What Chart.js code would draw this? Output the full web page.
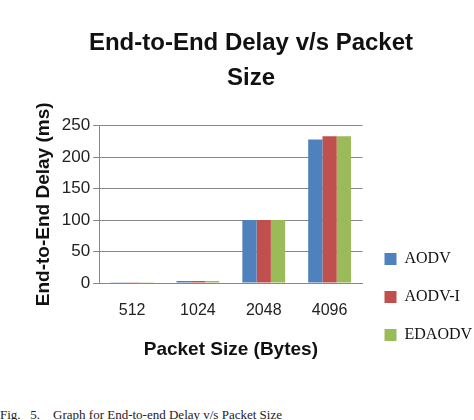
<!DOCTYPE html>
<html><head>
<script src="https://cdn.jsdelivr.net/npm/chart.js@4"></script>
<style>
body{margin:0;background:#fff;}
#wrap{position:relative;width:474px;height:420px;overflow:hidden;}
#caption{position:absolute;left:0;top:407px;font:13px "Liberation Serif",serif;color:#222;white-space:nowrap;}
</style>
</head><body>
<div id="wrap">
<canvas id="c" width="474" height="400"></canvas>
<div id="caption">Fig.&nbsp;&nbsp;&nbsp;5.&nbsp;&nbsp;&nbsp;&nbsp;Graph for End-to-end Delay v/s Packet Size</div>
</div>
<script>
const packetSizes = ['512', '1024', '2048', '4096'];
const aodv = [1, 3, 100, 228];
const aodvI = [1, 3, 100, 233];
const edaodv = [1, 3, 100, 233];
const yTicks = [0, 50, 100, 150, 200, 250];

const ctx = document.getElementById('c').getContext('2d');
new Chart(ctx, {
  type: 'bar',
  data: {
    labels: packetSizes,
    datasets: [
      { label: 'AODV', data: aodv, backgroundColor: '#4F81BD' },
      { label: 'AODV-I', data: aodvI, backgroundColor: '#C0504D' },
      { label: 'EDAODV', data: edaodv, backgroundColor: '#9BBB59' }
    ]
  },
  options: {
    responsive: false,
    animation: false,
    layout: { padding: { left: 28, right: 0, top: 14, bottom: 35 } },
    datasets: { bar: { categoryPercentage: 0.65, barPercentage: 1 } },
    scales: {
      x: {
        grid: { display: false },
        border: { color: '#888' },
        ticks: { color: '#222', padding: 10, font: { family: 'Liberation Sans', size: 16 } },
        title: { display: true, text: 'Packet Size (Bytes)', color: '#111', padding: { top: 8 },
          font: { family: 'Liberation Sans', size: 19, weight: 'bold' } }
      },
      y: {
        min: 0, max: 250,
        afterBuildTicks: ax => { ax.ticks = yTicks.map(v => ({ value: v })); },
        grid: { color: '#888', drawTicks: true, tickLength: 6 },
        border: { color: '#888' },
        ticks: { color: '#222', font: { family: 'Liberation Sans', size: 17 } },
        title: { display: true, text: 'End-to-End Delay (ms)', color: '#111',
          font: { family: 'Liberation Sans', size: 19, weight: 'bold' } }
      }
    },
    plugins: {
      title: {
        display: true, text: ['End-to-End Delay v/s Packet', 'Size'], color: '#111',
        font: { family: 'Liberation Sans', size: 24, weight: 'bold', lineHeight: 1.45 },
        padding: { top: 12, bottom: 30 }
      },
      legend: {
        position: 'right',
        align: 'end',
        labels: { color: '#111', boxWidth: 12, boxHeight: 12, padding: 22,
          font: { family: 'Liberation Serif', size: 16 } }
      }
    }
  }
});
</script>
</body></html>
